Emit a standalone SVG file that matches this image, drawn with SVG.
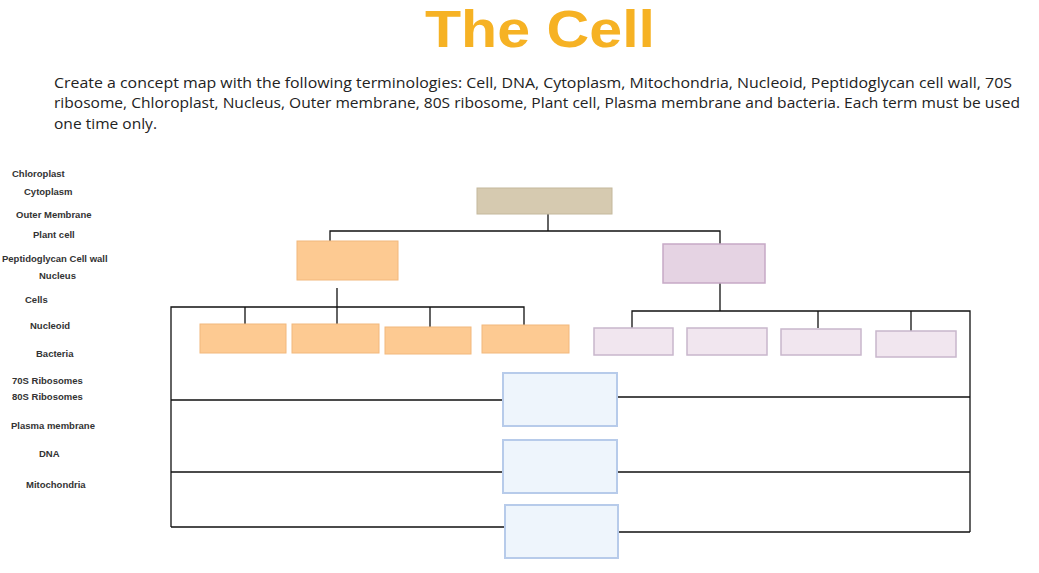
<svg xmlns="http://www.w3.org/2000/svg" width="1039" height="573" viewBox="0 0 1039 573">
<style>
.lbl{font-family:"Liberation Sans",Arial,sans-serif;font-size:9.5px;font-weight:bold;fill:#333}
.p{font-family:"Open Sans","Liberation Sans",sans-serif;font-size:14px;fill:#222}
.c{fill:none;stroke:#111;stroke-width:1.3}
.top{fill:#d6cab0;stroke:#c4b89c}
.or{fill:#fdca92;stroke:#f2b87c}
.pu{fill:#e5d3e3;stroke:#c6a9c6;stroke-width:1.5}
.lp{fill:#f1e6ef;stroke:#c8b6cc;stroke-width:1.5}
.bl{fill:#eef5fc;stroke:#b7cbea;stroke-width:2}
</style>
<rect width="1039" height="573" fill="#fff"/>
<text x="425" y="47" textLength="230" lengthAdjust="spacingAndGlyphs" style="font-family:'Liberation Sans',Arial,sans-serif;font-size:52px;font-weight:bold;fill:#f6b224">The Cell</text>
<text class="p" x="54" y="88" textLength="958" lengthAdjust="spacingAndGlyphs">Create a concept map with the following terminologies:  Cell, DNA, Cytoplasm, Mitochondria, Nucleoid, Peptidoglycan cell wall, 70S</text>
<text class="p" x="54" y="108" textLength="966" lengthAdjust="spacingAndGlyphs">ribosome, Chloroplast, Nucleus, Outer membrane, 80S ribosome, Plant cell, Plasma membrane and bacteria.  Each term must be used</text>
<text class="p" x="54" y="129" textLength="103" lengthAdjust="spacingAndGlyphs">one time only.</text>
<g id="terms">
<text class="lbl" x="12" y="177">Chloroplast</text>
<text class="lbl" x="24" y="195">Cytoplasm</text>
<text class="lbl" x="16" y="218">Outer Membrane</text>
<text class="lbl" x="33" y="238">Plant cell</text>
<text class="lbl" x="2" y="262">Peptidoglycan Cell wall</text>
<text class="lbl" x="39" y="279">Nucleus</text>
<text class="lbl" x="25" y="303">Cells</text>
<text class="lbl" x="30" y="329">Nucleoid</text>
<text class="lbl" x="36" y="357">Bacteria</text>
<text class="lbl" x="12" y="384">70S Ribosomes</text>
<text class="lbl" x="12" y="400">80S Ribosomes</text>
<text class="lbl" x="11" y="429">Plasma membrane</text>
<text class="lbl" x="39" y="457">DNA</text>
<text class="lbl" x="26" y="488">Mitochondria</text>
</g>
<g id="connectors">
<path class="c" d="M548 214V231M330 241V231H720V244"/>
<path class="c" d="M337 288V325M171 527V307H524V325M245 307V324M430 307V327"/>
<path class="c" d="M720 283V311M632 328V311H970V532M818 311V328M911 311V331"/>
<path class="c" d="M171 400H503M171 472H503M171 527H505"/>
<path class="c" d="M616 397H970M617 472H970M616 532H970"/>
</g>
<g id="n-root"><rect class="top" x="477" y="188" width="135" height="26"/></g>
<g id="n-left"><rect class="or" x="297" y="241" width="101" height="39"/></g>
<g id="n-right"><rect class="pu" x="663" y="244" width="102" height="39"/></g>
<g id="n-o1"><rect class="or" x="200" y="324" width="86" height="29"/></g>
<g id="n-o2"><rect class="or" x="292" y="324" width="87" height="29"/></g>
<g id="n-o3"><rect class="or" x="385" y="327" width="86" height="27"/></g>
<g id="n-o4"><rect class="or" x="482" y="325" width="87" height="28"/></g>
<g id="n-p1"><rect class="lp" x="594" y="328" width="79" height="27"/></g>
<g id="n-p2"><rect class="lp" x="687" y="328" width="80" height="27"/></g>
<g id="n-p3"><rect class="lp" x="781" y="329" width="80" height="26"/></g>
<g id="n-p4"><rect class="lp" x="876" y="331" width="80" height="26"/></g>
<g id="n-b1"><rect class="bl" x="503" y="373" width="114" height="53"/></g>
<g id="n-b2"><rect class="bl" x="503" y="440" width="114" height="53"/></g>
<g id="n-b3"><rect class="bl" x="505" y="505" width="113" height="53"/></g>
</svg>
